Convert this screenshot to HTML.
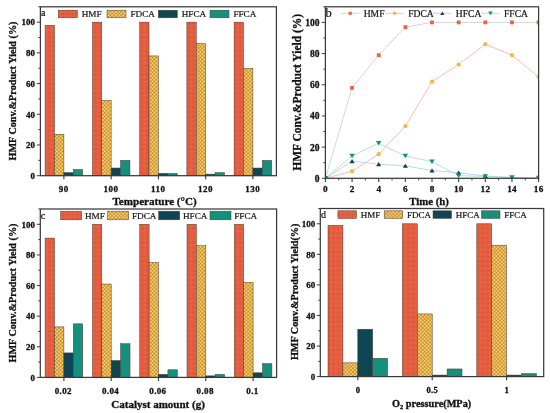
<!DOCTYPE html><html><head><meta charset="utf-8"><style>html,body{margin:0;padding:0;background:#fff;}svg{display:block;filter:blur(0.4px);font-family:"Liberation Serif",serif;}</style></head><body>
<svg width="550" height="413" viewBox="0 0 550 413">
<defs>
<pattern id="fdca" patternUnits="userSpaceOnUse" width="2.6" height="2.6" patternTransform="rotate(45)"><rect width="2.6" height="2.6" fill="#FDCE5E"/><line x1="0" y1="0" x2="2.6" y2="0" stroke="#8A5A26" stroke-width="0.75"/><line x1="0" y1="0" x2="0" y2="2.6" stroke="#8A5A26" stroke-width="0.75"/></pattern>
<pattern id="hmf" patternUnits="userSpaceOnUse" width="1.8" height="1.8" patternTransform="rotate(45)"><rect width="1.8" height="1.8" fill="#EE6747"/><rect width="0.9" height="0.9" fill="#D9553A"/><rect x="0.9" y="0.9" width="0.9" height="0.9" fill="#D9553A"/></pattern>
<pattern id="hfca" patternUnits="userSpaceOnUse" width="2.5" height="2.5" patternTransform="rotate(45)"><rect width="2.5" height="2.5" fill="#0F4A58"/><line x1="0" y1="0" x2="2.5" y2="0" stroke="#072f38" stroke-width="0.8"/></pattern>
</defs>
<rect width="550" height="413" fill="#fff"/>
<rect x="45.1" y="25.23" width="9.4" height="150.47" fill="url(#hmf)" stroke="#4a3a30" stroke-width="0.5"/>
<rect x="54.5" y="134.24" width="9.4" height="41.46" fill="url(#fdca)" stroke="#4a3a30" stroke-width="0.5"/>
<rect x="63.9" y="172.63" width="9.4" height="3.07" fill="url(#hfca)" stroke="#4a3a30" stroke-width="0.5"/>
<rect x="73.3" y="169.56" width="9.4" height="6.14" fill="#15907C" stroke="#4a3a30" stroke-width="0.5"/>
<rect x="92.35" y="22.15" width="9.4" height="153.55" fill="url(#hmf)" stroke="#4a3a30" stroke-width="0.5"/>
<rect x="101.75" y="100.46" width="9.4" height="75.24" fill="url(#fdca)" stroke="#4a3a30" stroke-width="0.5"/>
<rect x="111.15" y="168.02" width="9.4" height="7.68" fill="url(#hfca)" stroke="#4a3a30" stroke-width="0.5"/>
<rect x="120.55" y="160.35" width="9.4" height="15.35" fill="#15907C" stroke="#4a3a30" stroke-width="0.5"/>
<rect x="139.6" y="22.15" width="9.4" height="153.55" fill="url(#hmf)" stroke="#4a3a30" stroke-width="0.5"/>
<rect x="149" y="55.93" width="9.4" height="119.77" fill="url(#fdca)" stroke="#4a3a30" stroke-width="0.5"/>
<rect x="158.4" y="173.4" width="9.4" height="2.3" fill="url(#hfca)" stroke="#4a3a30" stroke-width="0.5"/>
<rect x="167.8" y="173.4" width="9.4" height="2.3" fill="#15907C" stroke="#4a3a30" stroke-width="0.5"/>
<rect x="186.85" y="22.15" width="9.4" height="153.55" fill="url(#hmf)" stroke="#4a3a30" stroke-width="0.5"/>
<rect x="196.25" y="43.65" width="9.4" height="132.05" fill="url(#fdca)" stroke="#4a3a30" stroke-width="0.5"/>
<rect x="205.65" y="174.16" width="9.4" height="1.54" fill="url(#hfca)" stroke="#4a3a30" stroke-width="0.5"/>
<rect x="215.05" y="172.63" width="9.4" height="3.07" fill="#15907C" stroke="#4a3a30" stroke-width="0.5"/>
<rect x="234.1" y="22.15" width="9.4" height="153.55" fill="url(#hmf)" stroke="#4a3a30" stroke-width="0.5"/>
<rect x="243.5" y="68.22" width="9.4" height="107.48" fill="url(#fdca)" stroke="#4a3a30" stroke-width="0.5"/>
<rect x="252.9" y="168.02" width="9.4" height="7.68" fill="url(#hfca)" stroke="#4a3a30" stroke-width="0.5"/>
<rect x="262.3" y="160.35" width="9.4" height="15.35" fill="#15907C" stroke="#4a3a30" stroke-width="0.5"/>
<rect x="40.4" y="6.8" width="236" height="168.9" fill="none" stroke="#3a3a3a" stroke-width="1.25"/>
<line x1="36.9" y1="175.7" x2="40.4" y2="175.7" stroke="#3a3a3a" stroke-width="1"/>
<text x="35" y="179.03" font-size="9" font-weight="bold" text-anchor="end" fill="#111" stroke="#111" stroke-width="0.3">0</text>
<line x1="38.4" y1="160.35" x2="40.4" y2="160.35" stroke="#3a3a3a" stroke-width="1"/>
<line x1="36.9" y1="144.99" x2="40.4" y2="144.99" stroke="#3a3a3a" stroke-width="1"/>
<text x="35" y="148.32" font-size="9" font-weight="bold" text-anchor="end" fill="#111" stroke="#111" stroke-width="0.3">20</text>
<line x1="38.4" y1="129.64" x2="40.4" y2="129.64" stroke="#3a3a3a" stroke-width="1"/>
<line x1="36.9" y1="114.28" x2="40.4" y2="114.28" stroke="#3a3a3a" stroke-width="1"/>
<text x="35" y="117.61" font-size="9" font-weight="bold" text-anchor="end" fill="#111" stroke="#111" stroke-width="0.3">40</text>
<line x1="38.4" y1="98.93" x2="40.4" y2="98.93" stroke="#3a3a3a" stroke-width="1"/>
<line x1="36.9" y1="83.57" x2="40.4" y2="83.57" stroke="#3a3a3a" stroke-width="1"/>
<text x="35" y="86.9" font-size="9" font-weight="bold" text-anchor="end" fill="#111" stroke="#111" stroke-width="0.3">60</text>
<line x1="38.4" y1="68.22" x2="40.4" y2="68.22" stroke="#3a3a3a" stroke-width="1"/>
<line x1="36.9" y1="52.86" x2="40.4" y2="52.86" stroke="#3a3a3a" stroke-width="1"/>
<text x="35" y="56.19" font-size="9" font-weight="bold" text-anchor="end" fill="#111" stroke="#111" stroke-width="0.3">80</text>
<line x1="38.4" y1="37.51" x2="40.4" y2="37.51" stroke="#3a3a3a" stroke-width="1"/>
<line x1="36.9" y1="22.15" x2="40.4" y2="22.15" stroke="#3a3a3a" stroke-width="1"/>
<text x="35" y="25.48" font-size="9" font-weight="bold" text-anchor="end" fill="#111" stroke="#111" stroke-width="0.3">100</text>
<line x1="38.4" y1="6.8" x2="40.4" y2="6.8" stroke="#3a3a3a" stroke-width="1"/>
<line x1="63.9" y1="175.7" x2="63.9" y2="179.3" stroke="#3a3a3a" stroke-width="1.1"/>
<text x="63.7" y="192.3" font-size="9" font-weight="bold" text-anchor="middle" fill="#111" stroke="#111" stroke-width="0.3" letter-spacing="0.4">90</text>
<line x1="111.15" y1="175.7" x2="111.15" y2="179.3" stroke="#3a3a3a" stroke-width="1.1"/>
<text x="110.95" y="192.3" font-size="9" font-weight="bold" text-anchor="middle" fill="#111" stroke="#111" stroke-width="0.3" letter-spacing="0.4">100</text>
<line x1="158.4" y1="175.7" x2="158.4" y2="179.3" stroke="#3a3a3a" stroke-width="1.1"/>
<text x="158.2" y="192.3" font-size="9" font-weight="bold" text-anchor="middle" fill="#111" stroke="#111" stroke-width="0.3" letter-spacing="0.4">110</text>
<line x1="205.65" y1="175.7" x2="205.65" y2="179.3" stroke="#3a3a3a" stroke-width="1.1"/>
<text x="205.45" y="192.3" font-size="9" font-weight="bold" text-anchor="middle" fill="#111" stroke="#111" stroke-width="0.3" letter-spacing="0.4">120</text>
<line x1="252.9" y1="175.7" x2="252.9" y2="179.3" stroke="#3a3a3a" stroke-width="1.1"/>
<text x="252.7" y="192.3" font-size="9" font-weight="bold" text-anchor="middle" fill="#111" stroke="#111" stroke-width="0.3" letter-spacing="0.4">130</text>
<text x="154.6" y="204.5" font-size="11.1" font-weight="bold" text-anchor="middle" fill="#111" stroke="#111" stroke-width="0.3">Temperature (°C)</text>
<text x="16.2" y="91" font-size="10.2" font-weight="bold" text-anchor="middle" fill="#111" stroke="#111" stroke-width="0.3" transform="rotate(-90 16.2 91)">HMF Conv.&amp;Product Yield (%)</text>
<text x="40.9" y="15.7" font-size="10" font-weight="normal" text-anchor="start" fill="#111" stroke="#111" stroke-width="0.2">a</text>
<rect x="58.3" y="10.2" width="19" height="7.6" fill="url(#hmf)" stroke="#4a3a30" stroke-width="0.5"/>
<text x="81.7" y="17.13" font-size="9.2" font-weight="normal" text-anchor="start" fill="#111" stroke="#111" stroke-width="0.2">HMF</text>
<rect x="107" y="10.2" width="19" height="7.6" fill="url(#fdca)" stroke="#4a3a30" stroke-width="0.5"/>
<text x="130.4" y="17.13" font-size="9.2" font-weight="normal" text-anchor="start" fill="#111" stroke="#111" stroke-width="0.2">FDCA</text>
<rect x="158.3" y="10.2" width="19" height="7.6" fill="url(#hfca)" stroke="#4a3a30" stroke-width="0.5"/>
<text x="181.7" y="17.13" font-size="9.2" font-weight="normal" text-anchor="start" fill="#111" stroke="#111" stroke-width="0.2">HFCA</text>
<rect x="210" y="10.2" width="19" height="7.6" fill="#15907C" stroke="#4a3a30" stroke-width="0.5"/>
<text x="233.4" y="17.13" font-size="9.2" font-weight="normal" text-anchor="start" fill="#111" stroke="#111" stroke-width="0.2">FFCA</text>
<rect x="45.1" y="238.09" width="9.4" height="139.31" fill="url(#hmf)" stroke="#4a3a30" stroke-width="0.5"/>
<rect x="54.5" y="326.88" width="9.4" height="50.52" fill="url(#fdca)" stroke="#4a3a30" stroke-width="0.5"/>
<rect x="63.9" y="352.91" width="9.4" height="24.49" fill="url(#hfca)" stroke="#4a3a30" stroke-width="0.5"/>
<rect x="73.3" y="323.82" width="9.4" height="53.58" fill="#15907C" stroke="#4a3a30" stroke-width="0.5"/>
<rect x="92.4" y="224.31" width="9.4" height="153.09" fill="url(#hmf)" stroke="#4a3a30" stroke-width="0.5"/>
<rect x="101.8" y="284.01" width="9.4" height="93.39" fill="url(#fdca)" stroke="#4a3a30" stroke-width="0.5"/>
<rect x="111.2" y="360.56" width="9.4" height="16.84" fill="url(#hfca)" stroke="#4a3a30" stroke-width="0.5"/>
<rect x="120.6" y="343.72" width="9.4" height="33.68" fill="#15907C" stroke="#4a3a30" stroke-width="0.5"/>
<rect x="139.7" y="224.31" width="9.4" height="153.09" fill="url(#hmf)" stroke="#4a3a30" stroke-width="0.5"/>
<rect x="149.1" y="262.58" width="9.4" height="114.82" fill="url(#fdca)" stroke="#4a3a30" stroke-width="0.5"/>
<rect x="158.5" y="374.34" width="9.4" height="3.06" fill="url(#hfca)" stroke="#4a3a30" stroke-width="0.5"/>
<rect x="167.9" y="369.75" width="9.4" height="7.65" fill="#15907C" stroke="#4a3a30" stroke-width="0.5"/>
<rect x="187" y="224.31" width="9.4" height="153.09" fill="url(#hmf)" stroke="#4a3a30" stroke-width="0.5"/>
<rect x="196.4" y="245.74" width="9.4" height="131.66" fill="url(#fdca)" stroke="#4a3a30" stroke-width="0.5"/>
<rect x="205.8" y="375.87" width="9.4" height="1.53" fill="url(#hfca)" stroke="#4a3a30" stroke-width="0.5"/>
<rect x="215.2" y="374.34" width="9.4" height="3.06" fill="#15907C" stroke="#4a3a30" stroke-width="0.5"/>
<rect x="234.3" y="224.31" width="9.4" height="153.09" fill="url(#hmf)" stroke="#4a3a30" stroke-width="0.5"/>
<rect x="243.7" y="282.48" width="9.4" height="94.92" fill="url(#fdca)" stroke="#4a3a30" stroke-width="0.5"/>
<rect x="253.1" y="372.81" width="9.4" height="4.59" fill="url(#hfca)" stroke="#4a3a30" stroke-width="0.5"/>
<rect x="262.5" y="363.62" width="9.4" height="13.78" fill="#15907C" stroke="#4a3a30" stroke-width="0.5"/>
<rect x="40.3" y="209" width="236.3" height="168.4" fill="none" stroke="#3a3a3a" stroke-width="1.25"/>
<line x1="36.8" y1="377.4" x2="40.3" y2="377.4" stroke="#3a3a3a" stroke-width="1"/>
<text x="35" y="380.73" font-size="9" font-weight="bold" text-anchor="end" fill="#111" stroke="#111" stroke-width="0.3">0</text>
<line x1="38.3" y1="362.09" x2="40.3" y2="362.09" stroke="#3a3a3a" stroke-width="1"/>
<line x1="36.8" y1="346.78" x2="40.3" y2="346.78" stroke="#3a3a3a" stroke-width="1"/>
<text x="35" y="350.11" font-size="9" font-weight="bold" text-anchor="end" fill="#111" stroke="#111" stroke-width="0.3">20</text>
<line x1="38.3" y1="331.47" x2="40.3" y2="331.47" stroke="#3a3a3a" stroke-width="1"/>
<line x1="36.8" y1="316.16" x2="40.3" y2="316.16" stroke="#3a3a3a" stroke-width="1"/>
<text x="35" y="319.49" font-size="9" font-weight="bold" text-anchor="end" fill="#111" stroke="#111" stroke-width="0.3">40</text>
<line x1="38.3" y1="300.85" x2="40.3" y2="300.85" stroke="#3a3a3a" stroke-width="1"/>
<line x1="36.8" y1="285.55" x2="40.3" y2="285.55" stroke="#3a3a3a" stroke-width="1"/>
<text x="35" y="288.88" font-size="9" font-weight="bold" text-anchor="end" fill="#111" stroke="#111" stroke-width="0.3">60</text>
<line x1="38.3" y1="270.24" x2="40.3" y2="270.24" stroke="#3a3a3a" stroke-width="1"/>
<line x1="36.8" y1="254.93" x2="40.3" y2="254.93" stroke="#3a3a3a" stroke-width="1"/>
<text x="35" y="258.26" font-size="9" font-weight="bold" text-anchor="end" fill="#111" stroke="#111" stroke-width="0.3">80</text>
<line x1="38.3" y1="239.62" x2="40.3" y2="239.62" stroke="#3a3a3a" stroke-width="1"/>
<line x1="36.8" y1="224.31" x2="40.3" y2="224.31" stroke="#3a3a3a" stroke-width="1"/>
<text x="35" y="227.64" font-size="9" font-weight="bold" text-anchor="end" fill="#111" stroke="#111" stroke-width="0.3">100</text>
<line x1="38.3" y1="209" x2="40.3" y2="209" stroke="#3a3a3a" stroke-width="1"/>
<line x1="63.9" y1="377.4" x2="63.9" y2="381" stroke="#3a3a3a" stroke-width="1.1"/>
<text x="63.28" y="394.3" font-size="9" font-weight="bold" text-anchor="middle" fill="#111" stroke="#111" stroke-width="0.3" letter-spacing="0.35">0.02</text>
<line x1="111.2" y1="377.4" x2="111.2" y2="381" stroke="#3a3a3a" stroke-width="1.1"/>
<text x="110.58" y="394.3" font-size="9" font-weight="bold" text-anchor="middle" fill="#111" stroke="#111" stroke-width="0.3" letter-spacing="0.35">0.04</text>
<line x1="158.5" y1="377.4" x2="158.5" y2="381" stroke="#3a3a3a" stroke-width="1.1"/>
<text x="157.88" y="394.3" font-size="9" font-weight="bold" text-anchor="middle" fill="#111" stroke="#111" stroke-width="0.3" letter-spacing="0.35">0.06</text>
<line x1="205.8" y1="377.4" x2="205.8" y2="381" stroke="#3a3a3a" stroke-width="1.1"/>
<text x="205.17" y="394.3" font-size="9" font-weight="bold" text-anchor="middle" fill="#111" stroke="#111" stroke-width="0.3" letter-spacing="0.35">0.08</text>
<line x1="253.1" y1="377.4" x2="253.1" y2="381" stroke="#3a3a3a" stroke-width="1.1"/>
<text x="252.47" y="394.3" font-size="9" font-weight="bold" text-anchor="middle" fill="#111" stroke="#111" stroke-width="0.3" letter-spacing="0.35">0.1</text>
<text x="158.1" y="407.7" font-size="11.0" font-weight="bold" text-anchor="middle" fill="#111" stroke="#111" stroke-width="0.3">Catalyst amount (g)</text>
<text x="16.2" y="293" font-size="10.2" font-weight="bold" text-anchor="middle" fill="#111" stroke="#111" stroke-width="0.3" transform="rotate(-90 16.2 293)">HMF Conv.&amp;Product Yield (%)</text>
<text x="40.8" y="219.1" font-size="10.5" font-weight="normal" text-anchor="start" fill="#111" stroke="#111" stroke-width="0.2">c</text>
<rect x="60.7" y="211.2" width="21" height="8.6" fill="url(#hmf)" stroke="#4a3a30" stroke-width="0.5"/>
<text x="84.9" y="218.63" font-size="9.2" font-weight="normal" text-anchor="start" fill="#111" stroke="#111" stroke-width="0.2">HMF</text>
<rect x="107.7" y="211.2" width="21" height="8.6" fill="url(#fdca)" stroke="#4a3a30" stroke-width="0.5"/>
<text x="131.9" y="218.63" font-size="9.2" font-weight="normal" text-anchor="start" fill="#111" stroke="#111" stroke-width="0.2">FDCA</text>
<rect x="158.7" y="211.2" width="21" height="8.6" fill="url(#hfca)" stroke="#4a3a30" stroke-width="0.5"/>
<text x="182.9" y="218.63" font-size="9.2" font-weight="normal" text-anchor="start" fill="#111" stroke="#111" stroke-width="0.2">HFCA</text>
<rect x="210" y="211.2" width="21" height="8.6" fill="#15907C" stroke="#4a3a30" stroke-width="0.5"/>
<text x="234.2" y="218.63" font-size="9.2" font-weight="normal" text-anchor="start" fill="#111" stroke="#111" stroke-width="0.2">FFCA</text>
<rect x="328" y="225.31" width="14.9" height="151.29" fill="url(#hmf)" stroke="#4a3a30" stroke-width="0.5"/>
<rect x="342.9" y="362.85" width="14.9" height="13.75" fill="url(#fdca)" stroke="#4a3a30" stroke-width="0.5"/>
<rect x="357.8" y="329.23" width="14.9" height="47.37" fill="url(#hfca)" stroke="#4a3a30" stroke-width="0.5"/>
<rect x="372.7" y="358.26" width="14.9" height="18.34" fill="#15907C" stroke="#4a3a30" stroke-width="0.5"/>
<rect x="402.4" y="223.78" width="14.9" height="152.82" fill="url(#hmf)" stroke="#4a3a30" stroke-width="0.5"/>
<rect x="417.3" y="313.94" width="14.9" height="62.66" fill="url(#fdca)" stroke="#4a3a30" stroke-width="0.5"/>
<rect x="432.2" y="375.07" width="14.9" height="1.53" fill="url(#hfca)" stroke="#4a3a30" stroke-width="0.5"/>
<rect x="447.1" y="368.96" width="14.9" height="7.64" fill="#15907C" stroke="#4a3a30" stroke-width="0.5"/>
<rect x="476.8" y="223.78" width="14.9" height="152.82" fill="url(#hmf)" stroke="#4a3a30" stroke-width="0.5"/>
<rect x="491.7" y="245.18" width="14.9" height="131.42" fill="url(#fdca)" stroke="#4a3a30" stroke-width="0.5"/>
<rect x="506.6" y="375.07" width="14.9" height="1.53" fill="url(#hfca)" stroke="#4a3a30" stroke-width="0.5"/>
<rect x="521.5" y="373.54" width="14.9" height="3.06" fill="#15907C" stroke="#4a3a30" stroke-width="0.5"/>
<rect x="320.3" y="208.5" width="223.4" height="168.1" fill="none" stroke="#3a3a3a" stroke-width="1.25"/>
<line x1="316.8" y1="376.6" x2="320.3" y2="376.6" stroke="#3a3a3a" stroke-width="1"/>
<text x="315.2" y="379.93" font-size="9" font-weight="bold" text-anchor="end" fill="#111" stroke="#111" stroke-width="0.3">0</text>
<line x1="318.3" y1="361.32" x2="320.3" y2="361.32" stroke="#3a3a3a" stroke-width="1"/>
<line x1="316.8" y1="346.04" x2="320.3" y2="346.04" stroke="#3a3a3a" stroke-width="1"/>
<text x="315.2" y="349.37" font-size="9" font-weight="bold" text-anchor="end" fill="#111" stroke="#111" stroke-width="0.3">20</text>
<line x1="318.3" y1="330.75" x2="320.3" y2="330.75" stroke="#3a3a3a" stroke-width="1"/>
<line x1="316.8" y1="315.47" x2="320.3" y2="315.47" stroke="#3a3a3a" stroke-width="1"/>
<text x="315.2" y="318.8" font-size="9" font-weight="bold" text-anchor="end" fill="#111" stroke="#111" stroke-width="0.3">40</text>
<line x1="318.3" y1="300.19" x2="320.3" y2="300.19" stroke="#3a3a3a" stroke-width="1"/>
<line x1="316.8" y1="284.91" x2="320.3" y2="284.91" stroke="#3a3a3a" stroke-width="1"/>
<text x="315.2" y="288.24" font-size="9" font-weight="bold" text-anchor="end" fill="#111" stroke="#111" stroke-width="0.3">60</text>
<line x1="318.3" y1="269.63" x2="320.3" y2="269.63" stroke="#3a3a3a" stroke-width="1"/>
<line x1="316.8" y1="254.35" x2="320.3" y2="254.35" stroke="#3a3a3a" stroke-width="1"/>
<text x="315.2" y="257.68" font-size="9" font-weight="bold" text-anchor="end" fill="#111" stroke="#111" stroke-width="0.3">80</text>
<line x1="318.3" y1="239.06" x2="320.3" y2="239.06" stroke="#3a3a3a" stroke-width="1"/>
<line x1="316.8" y1="223.78" x2="320.3" y2="223.78" stroke="#3a3a3a" stroke-width="1"/>
<text x="315.2" y="227.11" font-size="9" font-weight="bold" text-anchor="end" fill="#111" stroke="#111" stroke-width="0.3">100</text>
<line x1="318.3" y1="208.5" x2="320.3" y2="208.5" stroke="#3a3a3a" stroke-width="1"/>
<line x1="357.8" y1="376.6" x2="357.8" y2="380.2" stroke="#3a3a3a" stroke-width="1.1"/>
<text x="357.95" y="393.4" font-size="8.6" font-weight="bold" text-anchor="middle" fill="#111" stroke="#111" stroke-width="0.3" letter-spacing="0.3">0</text>
<line x1="432.2" y1="376.6" x2="432.2" y2="380.2" stroke="#3a3a3a" stroke-width="1.1"/>
<text x="432.35" y="393.4" font-size="8.6" font-weight="bold" text-anchor="middle" fill="#111" stroke="#111" stroke-width="0.3" letter-spacing="0.3">0.5</text>
<line x1="506.6" y1="376.6" x2="506.6" y2="380.2" stroke="#3a3a3a" stroke-width="1.1"/>
<text x="506.75" y="393.4" font-size="8.6" font-weight="bold" text-anchor="middle" fill="#111" stroke="#111" stroke-width="0.3" letter-spacing="0.3">1</text>
<text x="392" y="406.6" font-size="10.3" font-weight="bold" fill="#111" stroke="#111" stroke-width="0.3">O<tspan font-size="6.5" dy="2.3">2</tspan><tspan dy="-2.3"> pressure(MPa)</tspan></text>
<text x="298.1" y="291.8" font-size="10.2" font-weight="bold" text-anchor="middle" fill="#111" stroke="#111" stroke-width="0.3" transform="rotate(-90 298.1 291.8)">HMF Conv.&amp;Product Yield(%)</text>
<text x="320.9" y="217.6" font-size="10" font-weight="normal" text-anchor="start" fill="#111" stroke="#111" stroke-width="0.2">d</text>
<rect x="337.9" y="210.8" width="18.5" height="7.6" fill="url(#hmf)" stroke="#4a3a30" stroke-width="0.5"/>
<text x="360.7" y="217.66" font-size="9" font-weight="normal" text-anchor="start" fill="#111" stroke="#111" stroke-width="0.2">HMF</text>
<rect x="384.2" y="210.8" width="18.5" height="7.6" fill="url(#fdca)" stroke="#4a3a30" stroke-width="0.5"/>
<text x="407" y="217.66" font-size="9" font-weight="normal" text-anchor="start" fill="#111" stroke="#111" stroke-width="0.2">FDCA</text>
<rect x="433" y="210.8" width="18.5" height="7.6" fill="url(#hfca)" stroke="#4a3a30" stroke-width="0.5"/>
<text x="455.8" y="217.66" font-size="9" font-weight="normal" text-anchor="start" fill="#111" stroke="#111" stroke-width="0.2">HFCA</text>
<rect x="481.5" y="210.8" width="18.5" height="7.6" fill="#15907C" stroke="#4a3a30" stroke-width="0.5"/>
<text x="504.3" y="217.66" font-size="9" font-weight="normal" text-anchor="start" fill="#111" stroke="#111" stroke-width="0.2">FFCA</text>
<clipPath id="cb"><rect x="325.4" y="6.8" width="213.2" height="171.5"/></clipPath>
<g clip-path="url(#cb)">
<polyline points="325.4,178.3 352.05,87.87 378.7,55.13 405.35,27.07 432,22.39 458.65,22.39 485.3,22.39 511.95,22.39 538.6,22.39" fill="none" stroke="#cfcfcf" stroke-width="0.9"/>
<polyline points="325.4,178.3 352.05,171.13 378.7,154.13 405.35,126.07 432,81.64 458.65,64.49 485.3,44.22 511.95,55.13 538.6,76.96" fill="none" stroke="#FAB4B0" stroke-width="0.9"/>
<polyline points="325.4,178.3 352.05,161.15 378.7,164.27 405.35,165.83 432,170.5 458.65,172.69 485.3,175.96 511.95,177.52 538.6,178.3" fill="none" stroke="#B4D0F2" stroke-width="0.9"/>
<polyline points="325.4,178.3 352.05,155.85 378.7,143.22 405.35,156 432,161.62 458.65,175.65 485.3,176.43 511.95,177.52 538.6,177.99" fill="none" stroke="#ACE0CA" stroke-width="0.9"/>
<rect x="323.5" y="176.4" width="3.8" height="3.8" fill="#F0623F"/>
<rect x="350.15" y="85.97" width="3.8" height="3.8" fill="#F0623F"/>
<rect x="376.8" y="53.23" width="3.8" height="3.8" fill="#F0623F"/>
<rect x="403.45" y="25.17" width="3.8" height="3.8" fill="#F0623F"/>
<rect x="430.1" y="20.49" width="3.8" height="3.8" fill="#F0623F"/>
<rect x="456.75" y="20.49" width="3.8" height="3.8" fill="#F0623F"/>
<rect x="483.4" y="20.49" width="3.8" height="3.8" fill="#F0623F"/>
<rect x="510.05" y="20.49" width="3.8" height="3.8" fill="#F0623F"/>
<rect x="536.7" y="20.49" width="3.8" height="3.8" fill="#F0623F"/>
<circle cx="325.4" cy="178.3" r="2.1" fill="#F4B742"/>
<circle cx="352.05" cy="171.13" r="2.1" fill="#F4B742"/>
<circle cx="378.7" cy="154.13" r="2.1" fill="#F4B742"/>
<circle cx="405.35" cy="126.07" r="2.1" fill="#F4B742"/>
<circle cx="432" cy="81.64" r="2.1" fill="#F4B742"/>
<circle cx="458.65" cy="64.49" r="2.1" fill="#F4B742"/>
<circle cx="485.3" cy="44.22" r="2.1" fill="#F4B742"/>
<circle cx="511.95" cy="55.13" r="2.1" fill="#F4B742"/>
<circle cx="538.6" cy="76.96" r="2.1" fill="#F4B742"/>
<path d="M322.8 180.3L328 180.3L325.4 176.1Z" fill="#163E50"/>
<path d="M349.45 163.15L354.65 163.15L352.05 158.95Z" fill="#163E50"/>
<path d="M376.1 166.27L381.3 166.27L378.7 162.07Z" fill="#163E50"/>
<path d="M402.75 167.83L407.95 167.83L405.35 163.63Z" fill="#163E50"/>
<path d="M429.4 172.5L434.6 172.5L432 168.3Z" fill="#163E50"/>
<path d="M456.05 174.69L461.25 174.69L458.65 170.49Z" fill="#163E50"/>
<path d="M482.7 177.96L487.9 177.96L485.3 173.76Z" fill="#163E50"/>
<path d="M509.35 179.52L514.55 179.52L511.95 175.32Z" fill="#163E50"/>
<path d="M536 180.3L541.2 180.3L538.6 176.1Z" fill="#163E50"/>
<path d="M322.6 176.1L328.2 176.1L325.4 180.6Z" fill="#16937F"/>
<path d="M349.25 153.65L354.85 153.65L352.05 158.15Z" fill="#16937F"/>
<path d="M375.9 141.02L381.5 141.02L378.7 145.52Z" fill="#16937F"/>
<path d="M402.55 153.81L408.15 153.81L405.35 158.31Z" fill="#16937F"/>
<path d="M429.2 159.42L434.8 159.42L432 163.92Z" fill="#16937F"/>
<path d="M455.85 173.45L461.45 173.45L458.65 177.95Z" fill="#16937F"/>
<path d="M482.5 174.23L488.1 174.23L485.3 178.73Z" fill="#16937F"/>
<path d="M509.15 175.32L514.75 175.32L511.95 179.82Z" fill="#16937F"/>
<path d="M535.8 175.79L541.4 175.79L538.6 180.29Z" fill="#16937F"/>
</g>
<rect x="325.4" y="6.8" width="213.2" height="171.5" fill="none" stroke="#3a3a3a" stroke-width="1.25"/>
<line x1="321.9" y1="178.3" x2="325.4" y2="178.3" stroke="#3a3a3a" stroke-width="1"/>
<text x="319.5" y="181.81" font-size="9.5" font-weight="bold" text-anchor="end" fill="#111" stroke="#111" stroke-width="0.3">0</text>
<line x1="323.4" y1="162.71" x2="325.4" y2="162.71" stroke="#3a3a3a" stroke-width="1"/>
<line x1="321.9" y1="147.12" x2="325.4" y2="147.12" stroke="#3a3a3a" stroke-width="1"/>
<text x="319.5" y="150.63" font-size="9.5" font-weight="bold" text-anchor="end" fill="#111" stroke="#111" stroke-width="0.3">20</text>
<line x1="323.4" y1="131.53" x2="325.4" y2="131.53" stroke="#3a3a3a" stroke-width="1"/>
<line x1="321.9" y1="115.94" x2="325.4" y2="115.94" stroke="#3a3a3a" stroke-width="1"/>
<text x="319.5" y="119.45" font-size="9.5" font-weight="bold" text-anchor="end" fill="#111" stroke="#111" stroke-width="0.3">40</text>
<line x1="323.4" y1="100.35" x2="325.4" y2="100.35" stroke="#3a3a3a" stroke-width="1"/>
<line x1="321.9" y1="84.75" x2="325.4" y2="84.75" stroke="#3a3a3a" stroke-width="1"/>
<text x="319.5" y="88.27" font-size="9.5" font-weight="bold" text-anchor="end" fill="#111" stroke="#111" stroke-width="0.3">60</text>
<line x1="323.4" y1="69.16" x2="325.4" y2="69.16" stroke="#3a3a3a" stroke-width="1"/>
<line x1="321.9" y1="53.57" x2="325.4" y2="53.57" stroke="#3a3a3a" stroke-width="1"/>
<text x="319.5" y="57.09" font-size="9.5" font-weight="bold" text-anchor="end" fill="#111" stroke="#111" stroke-width="0.3">80</text>
<line x1="323.4" y1="37.98" x2="325.4" y2="37.98" stroke="#3a3a3a" stroke-width="1"/>
<line x1="321.9" y1="22.39" x2="325.4" y2="22.39" stroke="#3a3a3a" stroke-width="1"/>
<text x="319.5" y="25.91" font-size="9.5" font-weight="bold" text-anchor="end" fill="#111" stroke="#111" stroke-width="0.3">100</text>
<line x1="323.4" y1="6.8" x2="325.4" y2="6.8" stroke="#3a3a3a" stroke-width="1"/>
<line x1="325.4" y1="178.3" x2="325.4" y2="181.9" stroke="#3a3a3a" stroke-width="1.1"/>
<text x="325.55" y="192.4" font-size="9.2" font-weight="bold" text-anchor="middle" fill="#111" stroke="#111" stroke-width="0.3" letter-spacing="0.3">0</text>
<line x1="338.72" y1="178.3" x2="338.72" y2="180.3" stroke="#3a3a3a" stroke-width="1"/>
<line x1="352.05" y1="178.3" x2="352.05" y2="181.9" stroke="#3a3a3a" stroke-width="1.1"/>
<text x="352.2" y="192.4" font-size="9.2" font-weight="bold" text-anchor="middle" fill="#111" stroke="#111" stroke-width="0.3" letter-spacing="0.3">2</text>
<line x1="365.38" y1="178.3" x2="365.38" y2="180.3" stroke="#3a3a3a" stroke-width="1"/>
<line x1="378.7" y1="178.3" x2="378.7" y2="181.9" stroke="#3a3a3a" stroke-width="1.1"/>
<text x="378.85" y="192.4" font-size="9.2" font-weight="bold" text-anchor="middle" fill="#111" stroke="#111" stroke-width="0.3" letter-spacing="0.3">4</text>
<line x1="392.02" y1="178.3" x2="392.02" y2="180.3" stroke="#3a3a3a" stroke-width="1"/>
<line x1="405.35" y1="178.3" x2="405.35" y2="181.9" stroke="#3a3a3a" stroke-width="1.1"/>
<text x="405.5" y="192.4" font-size="9.2" font-weight="bold" text-anchor="middle" fill="#111" stroke="#111" stroke-width="0.3" letter-spacing="0.3">6</text>
<line x1="418.68" y1="178.3" x2="418.68" y2="180.3" stroke="#3a3a3a" stroke-width="1"/>
<line x1="432" y1="178.3" x2="432" y2="181.9" stroke="#3a3a3a" stroke-width="1.1"/>
<text x="432.15" y="192.4" font-size="9.2" font-weight="bold" text-anchor="middle" fill="#111" stroke="#111" stroke-width="0.3" letter-spacing="0.3">8</text>
<line x1="445.32" y1="178.3" x2="445.32" y2="180.3" stroke="#3a3a3a" stroke-width="1"/>
<line x1="458.65" y1="178.3" x2="458.65" y2="181.9" stroke="#3a3a3a" stroke-width="1.1"/>
<text x="458.8" y="192.4" font-size="9.2" font-weight="bold" text-anchor="middle" fill="#111" stroke="#111" stroke-width="0.3" letter-spacing="0.3">10</text>
<line x1="471.98" y1="178.3" x2="471.98" y2="180.3" stroke="#3a3a3a" stroke-width="1"/>
<line x1="485.3" y1="178.3" x2="485.3" y2="181.9" stroke="#3a3a3a" stroke-width="1.1"/>
<text x="485.45" y="192.4" font-size="9.2" font-weight="bold" text-anchor="middle" fill="#111" stroke="#111" stroke-width="0.3" letter-spacing="0.3">12</text>
<line x1="498.62" y1="178.3" x2="498.62" y2="180.3" stroke="#3a3a3a" stroke-width="1"/>
<line x1="511.95" y1="178.3" x2="511.95" y2="181.9" stroke="#3a3a3a" stroke-width="1.1"/>
<text x="512.1" y="192.4" font-size="9.2" font-weight="bold" text-anchor="middle" fill="#111" stroke="#111" stroke-width="0.3" letter-spacing="0.3">14</text>
<line x1="525.28" y1="178.3" x2="525.28" y2="180.3" stroke="#3a3a3a" stroke-width="1"/>
<line x1="538.6" y1="178.3" x2="538.6" y2="181.9" stroke="#3a3a3a" stroke-width="1.1"/>
<text x="538.75" y="192.4" font-size="9.2" font-weight="bold" text-anchor="middle" fill="#111" stroke="#111" stroke-width="0.3" letter-spacing="0.3">16</text>
<text x="429" y="205.3" font-size="10.8" font-weight="bold" text-anchor="middle" fill="#111" stroke="#111" stroke-width="0.3">Time (h)</text>
<text x="300.8" y="92.3" font-size="11.5" font-weight="bold" text-anchor="middle" fill="#111" stroke="#111" stroke-width="0.3" transform="rotate(-90 300.8 92.3)">HMF Conv.&amp;Product Yield (%)</text>
<text x="325.6" y="17.2" font-size="12.5" font-weight="normal" text-anchor="start" fill="#111" stroke="#111" stroke-width="0.2">b</text>
<line x1="340.7" y1="13.3" x2="359.2" y2="13.3" stroke="#cfcfcf" stroke-width="0.9"/>
<rect x="348.64" y="11.74" width="3.12" height="3.12" fill="#F0623F"/>
<text x="363.7" y="16.6" font-size="9.6" font-weight="normal" text-anchor="start" fill="#111" stroke="#111" stroke-width="0.2">HMF</text>
<line x1="385.2" y1="13.3" x2="403.7" y2="13.3" stroke="#FAB4B0" stroke-width="0.9"/>
<circle cx="394.7" cy="13.3" r="1.72" fill="#F4B742"/>
<text x="408.2" y="16.6" font-size="9.6" font-weight="normal" text-anchor="start" fill="#111" stroke="#111" stroke-width="0.2">FDCA</text>
<line x1="432.8" y1="13.3" x2="451.3" y2="13.3" stroke="#B4D0F2" stroke-width="0.9"/>
<path d="M440.17 14.94L444.43 14.94L442.3 11.5Z" fill="#163E50"/>
<text x="455.8" y="16.6" font-size="9.6" font-weight="normal" text-anchor="start" fill="#111" stroke="#111" stroke-width="0.2">HFCA</text>
<line x1="481" y1="13.3" x2="499.5" y2="13.3" stroke="#ACE0CA" stroke-width="0.9"/>
<path d="M488.2 11.5L492.8 11.5L490.5 15.19Z" fill="#16937F"/>
<text x="504" y="16.6" font-size="9.6" font-weight="normal" text-anchor="start" fill="#111" stroke="#111" stroke-width="0.2">FFCA</text>
</svg></body></html>
